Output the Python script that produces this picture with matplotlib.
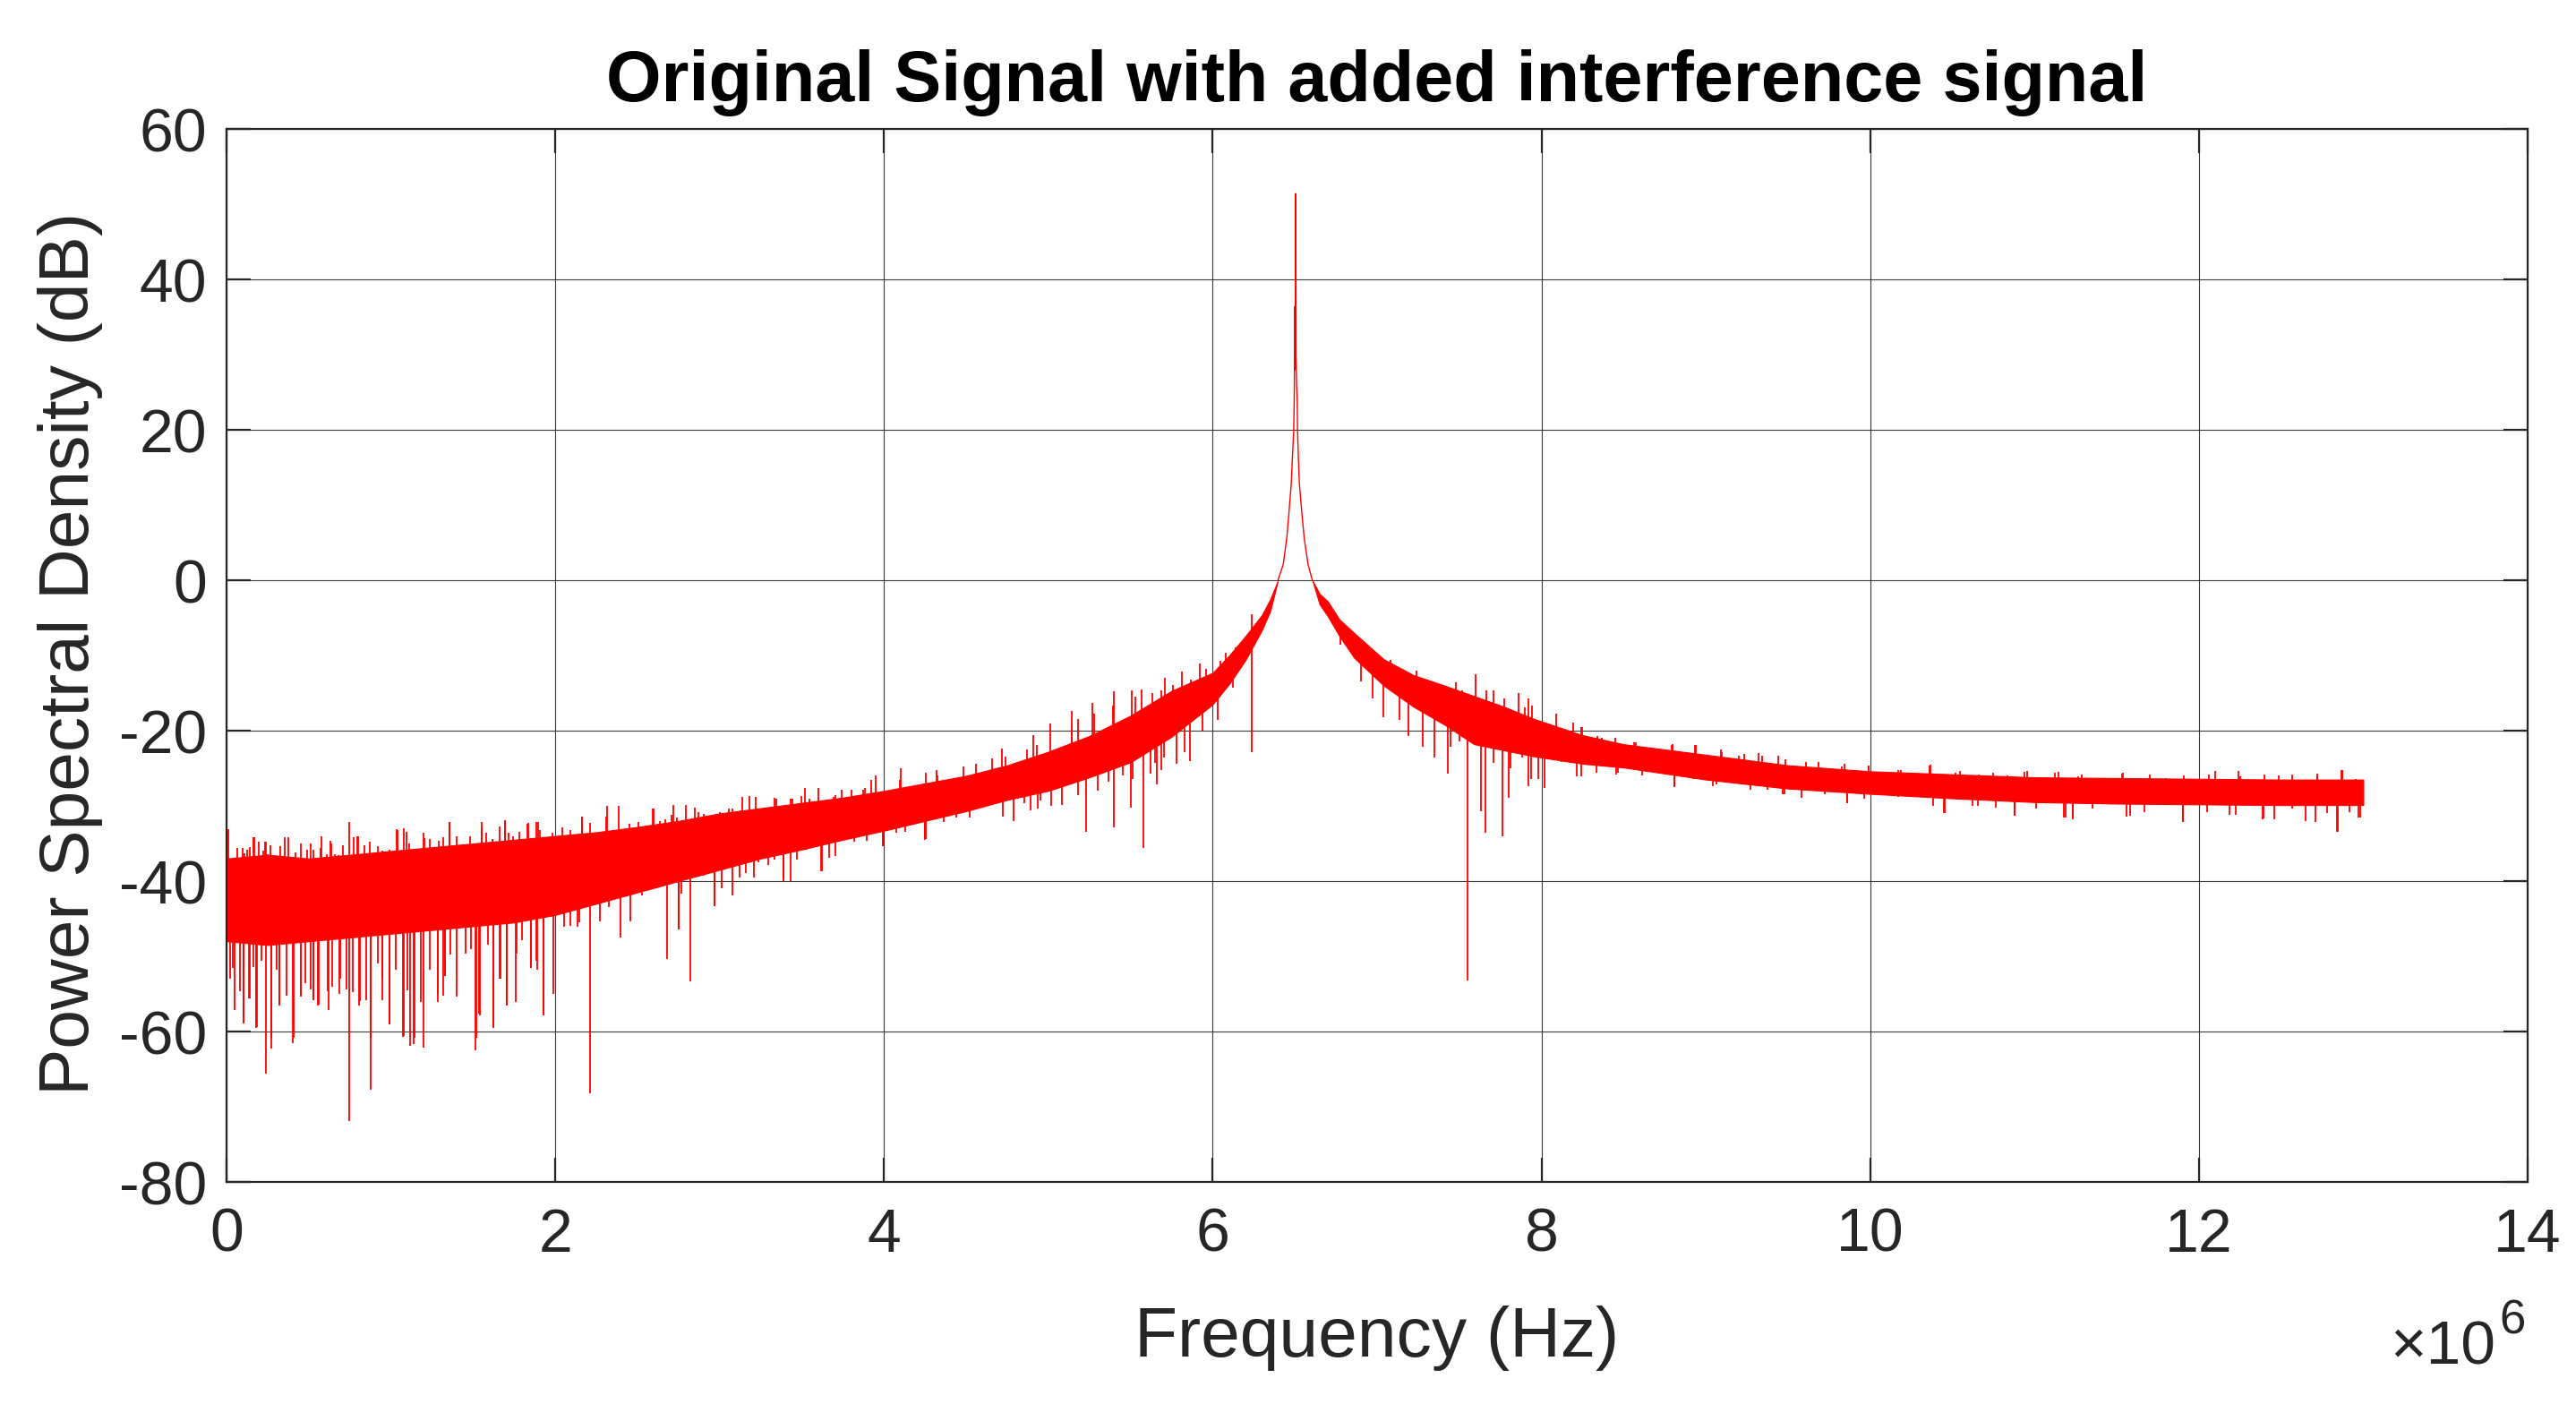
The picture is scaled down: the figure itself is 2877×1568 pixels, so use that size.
import matplotlib
matplotlib.use('Agg')
import matplotlib.pyplot as plt
import numpy as np

plt.rcParams['font.family'] = ['Liberation Sans', 'DejaVu Sans']

# ---------------- text ----------------
title_text = "Original Signal with added interference signal"
xlabel_text = "Frequency (Hz)"
ylabel_text = "Power Spectral Density (dB)"
x_tick_vals = [0, 2, 4, 6, 8, 10, 12, 14]          # x 10^6 Hz
y_tick_vals = [-80, -60, -40, -20, 0, 20, 40, 60]   # dB

# ---------------- data (frequencies in MHz, levels in dB) ----------------
# dense core of the noisy spectrum, left of the interference tone
core_left_f = [0.0, 0.25, 0.5, 0.75, 1.0, 1.25, 1.5, 1.75, 2.0, 2.25, 2.5, 2.75,
               3.0, 3.25, 3.5, 3.75, 4.0, 4.25, 4.5, 4.75, 5.0, 5.25, 5.5, 5.75,
               6.0, 6.1, 6.2, 6.3, 6.35, 6.397]
core_left_hi = [-37, -36.5, -37, -36.5, -36, -35.5, -35, -34.5, -34, -33.5, -32.8, -32,
                -31, -30.3, -29.6, -28.9, -28, -27, -26, -24.6, -22.8, -20.7, -18, -14.7,
                -12.3, -10.0, -7.4, -4.6, -2.5, 0]
core_left_lo = [-48, -48.5, -48, -47.5, -47, -46.5, -46, -45.5, -44.5, -43, -41.5, -40,
                -38.5, -37, -35.8, -34.5, -33.3, -32, -30.7, -29.2, -28, -26.2, -24.2, -20.8,
                -16.5, -13.8, -10.6, -6.6, -4.1, 0]

# dense core right of the interference tone
core_right_f = [6.606, 6.65, 6.7, 6.77, 6.86, 7.04, 7.22, 7.41, 7.59, 7.77, 7.95,
                8.25, 8.5, 9.0, 9.5, 10.0, 10.5, 11.0, 11.5, 12.0, 12.5, 13.0]
core_right_hi = [0, -1.8, -2.8, -5.2, -7.0, -10.5, -12.6, -14.0, -15.4, -16.8, -18.4,
                 -20.6, -21.8, -23.2, -24.6, -25.4, -25.8, -26.2, -26.3, -26.4, -26.5, -26.5]
core_right_lo = [0, -3.2, -4.8, -7.4, -10.3, -14.0, -16.8, -19.2, -21.8, -22.6, -23.4,
                 -24.4, -24.9, -26.5, -27.7, -28.4, -29.0, -29.5, -29.7, -29.8, -29.9, -29.9]

# interference tone
peak_f = [6.397, 6.429, 6.451, 6.465, 6.478, 6.485, 6.493, 6.496, 6.498, 6.499,
          6.501, 6.503, 6.5045, 6.5055, 6.507, 6.510, 6.514, 6.516, 6.521, 6.527,
          6.541, 6.556, 6.580, 6.606]
peak_db = [0, 2.1, 5.7, 9.3, 12.9, 16.4, 20.0, 24.3, 30.0, 36.4,
           28.0, 30.0, 51.4, 51.4, 30.0, 26.0, 24.3, 20.0, 16.4, 12.9,
           9.3, 5.7, 2.1, 0]

# upward excursions, 0 - 2.7 MHz
up_a_f = [0.0, 0.013, 0.065, 0.096, 0.111, 0.125, 0.141, 0.165, 0.194, 0.222, 0.236,
          0.252, 0.265, 0.292, 0.329, 0.352, 0.379, 0.419, 0.454, 0.492, 0.528, 0.570,
          0.579, 0.610, 0.634, 0.659, 0.679, 0.706, 0.748, 0.775, 0.801, 0.837, 0.873,
          0.919, 0.946, 0.991, 1.036, 1.078, 1.109, 1.155, 1.205, 1.236, 1.291, 1.318,
          1.358, 1.400, 1.436, 1.472, 1.512, 1.552, 1.581, 1.618, 1.663, 1.696, 1.714,
          1.741, 1.779, 1.836, 1.886, 1.908, 1.944, 1.981, 2.042, 2.09, 2.162, 2.213,
          2.271, 2.313, 2.344, 2.387, 2.453, 2.504, 2.526, 2.594, 2.634, 2.671, 2.706]
up_a_db = [-24.4, -33.1, -37.1, -35.6, -36.3, -35.8, -35.5, -34.2, -34.8, -36.0, -34.8,
           -36.4, -35.2, -36.8, -35.4, -34.2, -36.8, -36.2, -35.0, -35.8, -35.8, -35.6,
           -34.0, -36.4, -34.6, -36.4, -36.6, -35.2, -32.1, -34.2, -34.0, -35.2, -34.8,
           -35.4, -36.0, -35.8, -33.1, -33.0, -35.0, -36.3, -34.3, -34.4, -34.6, -34.2,
           -32.1, -34.1, -35.6, -36.2, -36.4, -32.2, -33.6, -34.4, -32.7, -32.0, -33.6,
           -34.0, -33.4, -32.3, -32.2, -33.2, -34.6, -33.6, -32.8, -33.2, -31.4, -32.3,
           -33.6, -30.0, -33.6, -30.0, -32.4, -32.2, -33.6, -30.4, -32.0, -31.8, -31.2]

# downward excursions, 0 - 2.7 MHz
dn_a_f = [0.020, 0.051, 0.084, 0.105, 0.138, 0.161, 0.182, 0.211, 0.242, 0.274, 0.303,
          0.323, 0.365, 0.405, 0.450, 0.478, 0.510, 0.528, 0.557, 0.617, 0.643, 0.692,
          0.728, 0.748, 0.766, 0.808, 0.851, 0.877, 0.919, 0.946, 0.99, 1.028, 1.075,
          1.102, 1.118, 1.14, 1.182, 1.2, 1.236, 1.287, 1.320, 1.331, 1.364, 1.40,
          1.454, 1.487, 1.516, 1.538, 1.590, 1.625, 1.663, 1.705, 1.76, 1.799, 1.854,
          1.890, 1.93, 1.990, 2.053, 2.090, 2.144, 2.213, 2.271, 2.326, 2.398, 2.456,
          2.526, 2.580, 2.68]
dn_a_db = [-53.0, -57.1, -54.6, -58.9, -55.6, -51.4, -59.5, -50.6, -65.6, -62.3, -51.8,
           -56.5, -55.2, -61.6, -55.3, -53.6, -54.4, -55.8, -56.5, -54.6, -54.0, -53.0,
           -54.4, -71.9, -54.8, -56.5, -55.8, -67.7, -51.0, -52.8, -59.1, -51.8, -60.7,
           -54.5, -61.9, -61.7, -56.1, -62.1, -51.8, -56.1, -55.2, -52.5, -49.8, -55.3,
           -49.6, -49.0, -62.5, -57.6, -48.5, -59.5, -53.0, -56.6, -56.1, -47.9, -51.6,
           -51.8, -57.8, -55.0, -46.1, -45.9, -45.5, -68.2, -45.3, -43.5, -47.5, -45.3,
           -41.9, -40.3, -50.4]

# further excursions, 0 - 4.3 MHz
up_e_f = [0.067, 0.170, 0.239, 0.375, 0.511, 0.639, 0.798, 1.040, 1.095, 1.198, 1.354,
          1.484, 1.554, 1.695, 1.829, 1.895, 2.165, 2.312, 2.596, 2.796, 2.873, 3.054,
          3.221, 3.346, 3.443, 3.602, 3.707, 3.874]
up_e_db = [-35.6, -34.2, -34.8, -34.2, -35.0, -35.0, -34.0, -33.2, -33.4, -33.6, -32.1,
           -34.0, -32.8, -31.9, -32.4, -32.2, -31.5, -31.4, -30.4, -29.9, -30.8, -30.4,
           -28.8, -29.0, -29.1, -27.6, -28.6, -27.8]
dn_e_f = [0.039, 0.103, 0.142, 0.184, 0.275, 0.323, 0.406, 0.450, 0.531, 0.559, 0.623,
          0.687, 0.809, 0.878, 0.948, 0.992, 1.076, 1.145, 1.287, 1.331, 1.520, 1.540,
          1.623, 1.665, 1.706, 1.765, 1.851, 1.887, 1.929, 2.137, 2.751, 2.971, 3.207,
          3.387, 3.618, 3.993, 4.254]
dn_e_db = [-51.6, -58.8, -55.6, -59.4, -60.8, -56.4, -60.8, -55.2, -55.8, -56.4, -57.2,
           -55.0, -56.0, -60.8, -55.8, -59.0, -60.6, -60.8, -55.0, -52.6, -60.8, -57.8,
           -59.4, -53.0, -56.6, -49.6, -51.6, -50.6, -57.8, -46.1, -46.4, -43.3, -39.5,
           -39.7, -38.7, -35.4, -34.4]

# upward excursions, 2.7 - 6.3 MHz
up_b_f = [2.72, 2.740, 2.851, 2.905, 3.003, 3.080, 3.129, 3.14, 3.18, 3.333, 3.431,
          3.499, 3.52, 3.547, 3.693, 3.742, 3.800, 3.884, 3.92, 3.952, 4.096, 4.1,
          4.257, 4.32, 4.325, 4.481, 4.559, 4.656, 4.72, 4.738, 4.870, 4.91, 4.928,
          5.01, 5.142, 5.14, 5.181, 5.27, 5.278, 5.395, 5.40, 5.51, 5.531, 5.57,
          5.630, 5.685, 5.71, 5.757, 5.81, 5.866, 5.92, 5.957, 6.048, 6.08, 6.139, 6.239]
up_b_db = [-29.9, -31.6, -30.2, -31.1, -30.8, -30.3, -30.6, -28.8, -28.7, -28.9, -29.1,
           -28.7, -27.6, -29.0, -28.8, -27.8, -27.8, -27.6, -26.5, -26.0, -26.5, -25.0,
           -25.6, -25.2, -26.0, -24.8, -24.4, -23.7, -22.4, -23.5, -22.5, -20.6, -21.9,
           -19.0, -19.9, -17.4, -18.5, -16.3, -17.7, -16.7, -14.8, -14.7, -15.5, -14.5,
           -15.0, -14.6, -13.0, -13.9, -12.1, -13.2, -11.1, -11.8, -10.7, -9.6, -8.9, -4.5]

# downward excursions, 2.7 - 6.3 MHz
dn_b_f = [2.672, 2.711, 2.75, 2.769, 2.82, 2.866, 2.905, 2.97, 3.012, 3.08, 3.119,
          3.158, 3.236, 3.294, 3.333, 3.39, 3.43, 3.469, 3.528, 3.62, 3.664, 3.703,
          3.820, 3.897, 3.995, 4.072, 4.131, 4.248, 4.25, 4.364, 4.442, 4.520, 4.637,
          4.724, 4.79, 4.851, 4.89, 4.938, 4.95, 5.016, 5.08, 5.123, 5.181, 5.23,
          5.298, 5.366, 5.40, 5.453, 5.50, 5.512, 5.58, 5.62, 5.648, 5.66, 5.687,
          5.703, 5.78, 5.830, 5.86, 5.939, 6.030, 6.121, 6.239]
dn_b_db = [-40.3, -39.1, -46.4, -41.7, -53.3, -39.1, -39.3, -43.3, -40.9, -41.9, -39.5,
           -38.9, -37.5, -37.9, -37.1, -40.0, -40.0, -37.1, -35.8, -38.7, -36.9, -36.7,
           -34.8, -34.6, -35.4, -33.6, -33.4, -34.4, -34.5, -32.2, -31.6, -31.6, -30.0,
           -31.4, -32.0, -29.6, -30.6, -30.4, -29.3, -30.0, -29.9, -27.2, -28.6, -33.4,
           -28.0, -26.8, -32.8, -26.0, -30.2, -26.4, -35.6, -25.7, -24.3, -27.2, -25.2,
           -23.6, -24.4, -22.9, -24.1, -20.0, -18.6, -14.3, -22.9]

# upward excursions, 6.6 - 13 MHz
up_c_f = [6.83, 6.937, 6.974, 7.08, 7.155, 7.24, 7.301, 7.373, 7.48, 7.519, 7.60,
          7.664, 7.71, 7.773, 7.86, 7.90, 7.918, 7.94, 8.089, 8.194, 8.24, 8.367,
          8.576, 8.715, 8.79, 8.94, 9.097, 9.201, 9.340, 9.44, 9.687, 9.826, 9.99,
          10.173, 10.36, 10.521, 10.660, 10.833, 10.94, 11.146, 11.285, 11.54, 11.702,
          11.910, 12.101, 12.24, 12.396, 12.570, 12.72, 12.87, 12.952]
up_c_db = [-7.7, -10.4, -10.7, -10.6, -11.8, -12.0, -13.4, -13.9, -13.6, -14.6, -12.5,
           -14.6, -14.6, -15.7, -15.0, -16.9, -15.7, -16.7, -17.7, -18.9, -19.5, -20.9,
           -21.5, -22.5, -21.9, -21.9, -22.9, -23.3, -23.3, -23.3, -24.2, -24.8, -24.6,
           -25.2, -24.6, -25.6, -25.8, -26.0, -25.5, -25.5, -25.8, -25.6, -25.8,
           -26.0, -25.4, -25.4, -25.8, -25.8, -25.7, -25.2, -26.4]

# downward excursions, 6.6 - 13 MHz
dn_c_f = [6.774, 6.90, 6.974, 7.04, 7.137, 7.19, 7.28, 7.35, 7.43, 7.446, 7.500,
          7.55, 7.63, 7.66, 7.71, 7.76, 7.80, 7.809, 7.882, 7.92, 7.936, 7.98,
          8.020, 8.124, 8.24, 8.333, 8.454, 8.610, 8.81, 8.923, 9.062, 9.270, 9.375,
          9.479, 9.58, 9.722, 9.86, 9.965, 10.173, 10.382, 10.45, 10.625, 10.764,
          10.88, 11.007, 11.18, 11.23, 11.354, 11.58, 11.667, 11.9, 12.049, 12.223,
          12.39, 12.46, 12.570, 12.71, 12.778, 12.84, 12.917, 12.98]
dn_c_db = [-8.6, -13.4, -15.7, -18.2, -18.6, -20.7, -22.1, -23.6, -25.7, -22.2, -21.4,
           -53.2, -30.7, -33.6, -24.3, -34.0, -28.9, -25.0, -23.6, -27.4, -26.4, -26.4,
           -27.6, -24.2, -26.1, -25.6, -25.8, -26.0, -27.4, -26.4, -27.2, -27.8, -27.8,
           -28.4, -28.9, -28.4, -29.6, -29.0, -28.8, -30.0, -31.0, -30.0, -30.2,
           -31.3, -30.4, -31.6, -31.7, -30.4, -31.3, -30.8, -32.1, -30.8, -31.2,
           -31.8, -31.8, -30.4, -32.1, -31.0, -33.4, -30.8, -31.6]

# further excursions, 8.2 - 13 MHz
up_d_f = [8.248, 8.342, 8.451, 8.561, 8.795, 8.936, 9.092, 9.233, 9.320, 9.483, 9.608,
          9.843, 9.993, 10.186, 10.368, 10.546, 10.750, 10.953, 11.125, 11.265, 11.531,
          11.797, 12.063, 12.250, 12.485, 12.719, 12.869]
up_d_db = [-19.5, -20.7, -20.9, -21.6, -21.8, -21.9, -22.5, -23.1, -23.0, -23.8, -24.2,
           -24.4, -24.6, -25.2, -24.5, -25.4, -25.6, -25.4, -25.6, -26.1, -25.7,
           -26.3, -25.8, -26.1, -25.9, -26.1, -25.2]
dn_d_f = [8.217, 8.467, 8.811, 9.045, 9.467, 9.858, 10.061, 10.452, 10.656, 10.881,
          11.187, 11.234, 11.562, 11.900, 12.188, 12.391, 12.647, 12.844, 12.969]
dn_d_db = [-26.1, -25.6, -27.5, -27.4, -28.4, -29.6, -28.4, -31.0, -30.0, -31.3,
           -31.6, -31.8, -31.4, -32.1, -31.2, -31.7, -32.0, -33.4, -31.6]

# ---------------- drawing ----------------
W, H = 2877, 1568
fig = plt.figure(figsize=(W / 100, H / 100), dpi=100)
ax_l, ax_r, ax_t, ax_b = 253, 2823, 144, 1320
ax = fig.add_axes([ax_l / W, 1 - ax_b / H, (ax_r - ax_l) / W, (ax_b - ax_t) / H])

red = '#ff0000'
dark = '#262626'
MHZ = 1e6

cl_f = np.array(core_left_f) * MHZ
cr_f = np.array(core_right_f) * MHZ
ax.fill_between(cl_f, core_left_lo, core_left_hi, color=red, lw=0.8, zorder=3)
ax.fill_between(cr_f, core_right_lo, core_right_hi, color=red, lw=0.8, zorder=3)
ax.plot(np.array(peak_f) * MHZ, peak_db, color=red, lw=1.0, zorder=3)

all_f = np.concatenate([cl_f, cr_f])
all_mid = np.concatenate([(np.array(core_left_hi) + np.array(core_left_lo)) / 2,
                          (np.array(core_right_hi) + np.array(core_right_lo)) / 2])

for sf, sv in [(up_a_f, up_a_db), (dn_a_f, dn_a_db), (up_e_f, up_e_db),
               (dn_e_f, dn_e_db), (up_b_f, up_b_db), (dn_b_f, dn_b_db),
               (up_c_f, up_c_db), (dn_c_f, dn_c_db), (up_d_f, up_d_db),
               (dn_d_f, dn_d_db)]:
    fx = np.array(sf) * MHZ
    ax.vlines(fx, np.interp(fx, all_f, all_mid), sv, color=red, lw=1.3, zorder=3)

ax.set_xlim(0, 14 * MHZ)
ax.set_ylim(-80, 60)
ax.set_xticks([v * MHZ for v in x_tick_vals])
ax.set_xticklabels([str(v) for v in x_tick_vals])
ax.set_yticks(y_tick_vals)
ax.set_yticklabels([str(v) for v in y_tick_vals])

ax.grid(True, color=dark, lw=0.8, alpha=0.9, zorder=1)
ax.set_axisbelow(True)
for s in ax.spines.values():
    s.set_color(dark)
    s.set_linewidth(1.6)
    s.set_zorder(5)
ax.tick_params(axis='both', which='both', direction='in', length=19.4, width=1.6,
               color=dark, labelcolor=dark, labelsize=49, top=True, right=True)
ax.tick_params(axis='x', pad=20)
ax.tick_params(axis='y', pad=16)

fig.text(1538 / W, 1 - 113 / H, title_text, ha='center', va='baseline',
         fontsize=57, fontweight='bold', color='black')
fig.text(1538 / W, 1 - 1515 / H, xlabel_text, ha='center', va='baseline',
         fontsize=56.5, color=dark)
fig.text(79 / W, 1 - 730 / H, ylabel_text, ha='center', va='center',
         rotation=90, fontsize=56.5, color=dark)
fig.text(2787 / W, 1 - 1524 / H, '\u00d710', ha='right', va='baseline',
         fontsize=50, color=dark)
fig.text(2791 / W, 1 - 1489 / H, '6', ha='left', va='baseline',
         fontsize=38, color=dark)

fig.savefig('out.png', dpi=100)
